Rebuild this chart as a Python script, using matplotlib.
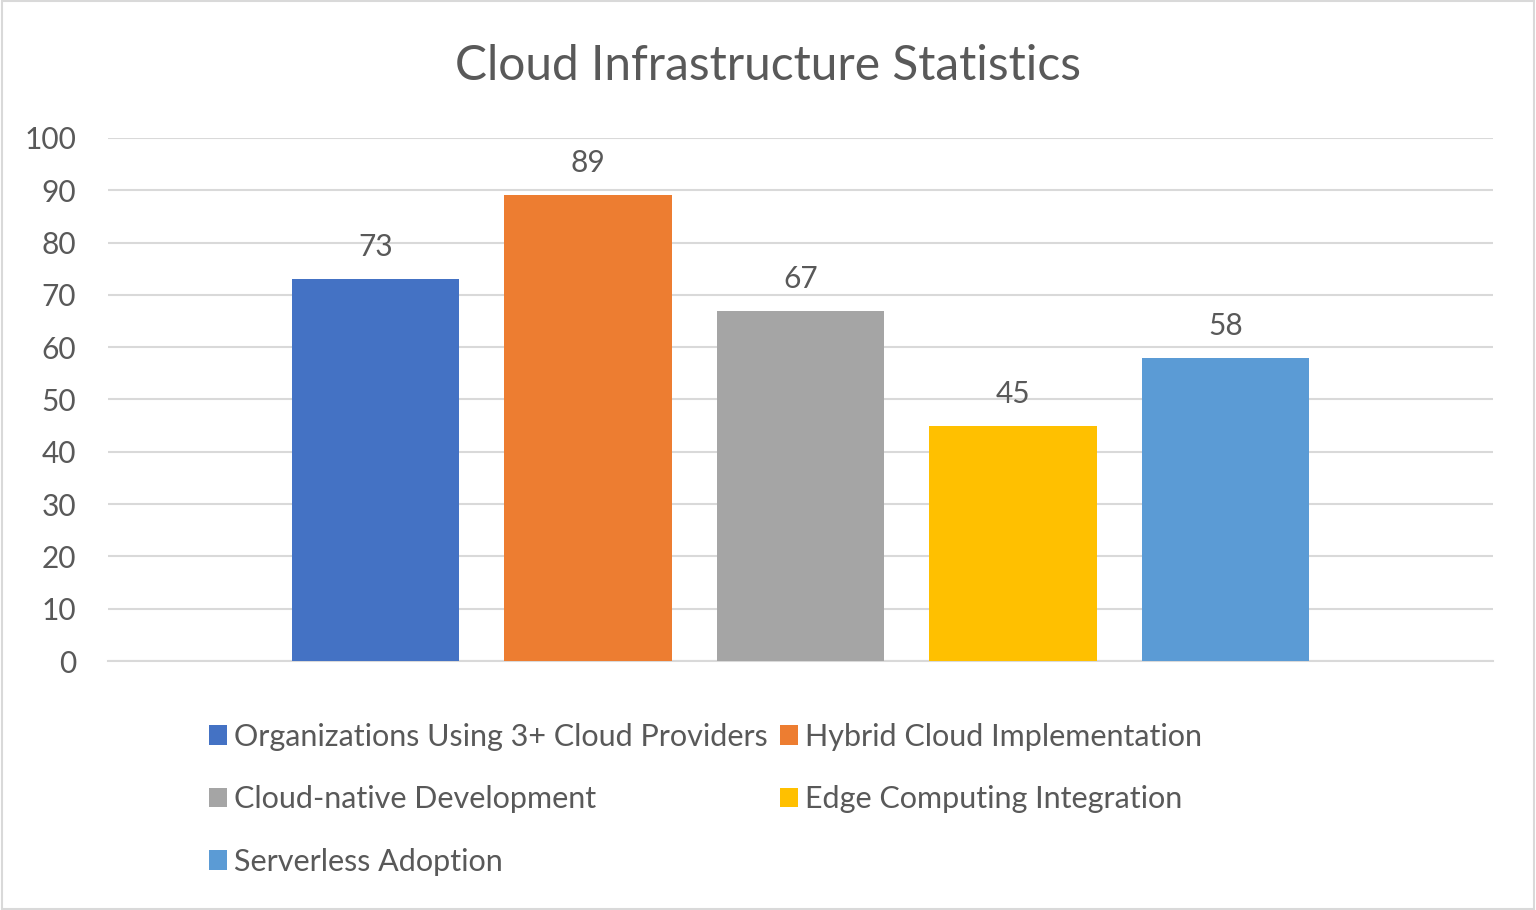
import matplotlib
matplotlib.use("Agg")
import matplotlib.pyplot as plt
from matplotlib.patches import Patch, Rectangle

# datos del grafico
series = ["Organizations Using 3+ Cloud Providers", "Hybrid Cloud Implementation",
          "Cloud-native Development", "Edge Computing Integration", "Serverless Adoption"]
values = [73, 89, 67, 45, 58]
colors = ["#4472C4", "#ED7D31", "#A5A5A5", "#FFC000", "#5B9BD5"]
yticks = [0, 10, 20, 30, 40, 50, 60, 70, 80, 90, 100]

plt.rcParams['font.family'] = ['Lato', 'DejaVu Sans']
txt = "#595959"

fig = plt.figure(figsize=(15.36, 9.10), dpi=100)
fig.patch.set_facecolor("white")
ax = fig.add_axes([0.0703, 0.2736, 0.9017, 0.5748])

# barras, una por serie, agrupadas en la unica categoria
n = len(values)
width = 0.787
for i, (name, v, c) in enumerate(zip(series, values, colors)):
    x = i - (n - 1) / 2
    ax.bar(x, v, width=width, color=c, label=name, zorder=3)
    ax.annotate(str(v), (x, v), xytext=(0, 13), textcoords="offset points",
                ha="center", va="bottom", fontsize=21.5, color=txt)

ax.set_xlim(-3.257, 3.257)
ax.set_ylim(0, 100)
ax.set_yticks(yticks)
ax.set_xticks([])
ax.tick_params(axis="y", length=0, labelsize=21.5, labelcolor=txt, pad=23)
ax.grid(axis="y", color="#D9D9D9", lw=1.5, zorder=0)
for s in ["top", "right", "left"]:
    ax.spines[s].set_visible(False)
ax.spines["bottom"].set_color("#D9D9D9")
ax.spines["bottom"].set_linewidth(1.5)

fig.text(0.5, 0.928, "Cloud Infrastructure Statistics", ha="center", va="center",
         fontsize=34.5, color=txt)

# leyenda: orden por columnas
order = [0, 2, 4, 1, 3]
handles = [Patch(facecolor=colors[i], label=series[i]) for i in order]
fig.legend(handles=handles, loc="upper left", bbox_to_anchor=(0.118, 0.236), ncol=2,
           frameon=False, fontsize=22, labelcolor=txt, handlelength=0.6,
           handleheight=0.6, handletextpad=0.22, columnspacing=0.4, labelspacing=1.13)

# borde del grafico
fig.patches.append(Rectangle((0.001, 0.001), 0.998, 0.998, transform=fig.transFigure,
                             fill=False, edgecolor="#D9D9D9", lw=1.5))

fig.savefig("out.png", dpi=100)
